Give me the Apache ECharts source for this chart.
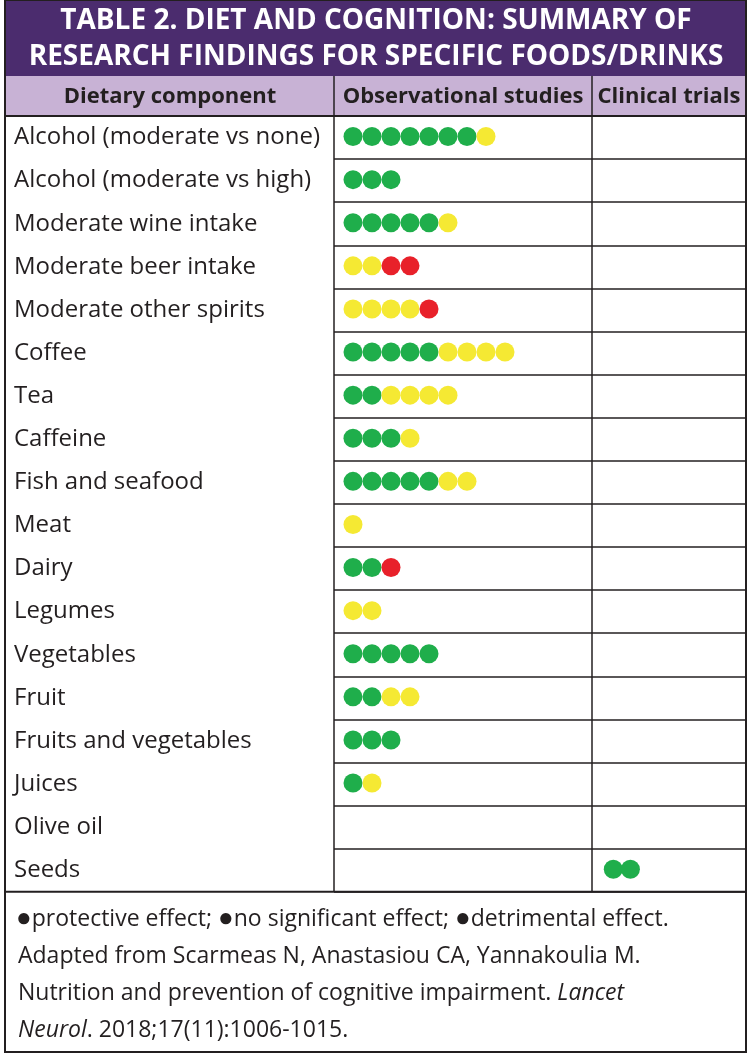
<!DOCTYPE html>
<html><head><meta charset="utf-8">
<script src="https://cdn.jsdelivr.net/npm/echarts@6/dist/echarts.min.js"></script>
<style>html,body{margin:0;padding:0;background:#fff}#c{width:750px;height:1058px}</style>
</head><body><div id="c"></div>
<script>
const categories = ['Alcohol (moderate vs none)','Alcohol (moderate vs high)','Moderate wine intake','Moderate beer intake','Moderate other spirits','Coffee','Tea','Caffeine','Fish and seafood','Meat','Dairy','Legumes','Vegetables','Fruit','Fruits and vegetables','Juices','Olive oil','Seeds'];
const observational = ['gggggggy','ggg','gggggy','yyrr','yyyyr','gggggyyyy','ggyyyy','gggy','gggggyy','y','ggr','yy','ggggg','ggyy','ggg','gy','',''];
const clinical = ['','','','','','','','','','','','','','','','','','gg'];
const colors = {g:'#1fae4b', y:'#f5e933', r:'#e8212a'};
const F = '"Open Sans", sans-serif';

const data = [];
categories.forEach((c, r) => {
  [...observational[r]].forEach((k, i) => data.push({value:[i+1, c], itemStyle:{color:colors[k]}}));
  [...clinical[r]].forEach((k, i) => data.push({value:[14.7+i*0.9, c], itemStyle:{color:colors[k]}}));
});

const L = '#231f20';
const rowTop = 116, rowH = 43.1, bottom = rowTop + 18*rowH;
const dot = {fill:null, font:'30px '+F, verticalAlign:'middle'};
const g = [
  {type:'rect', shape:{x:5,y:0,width:741,height:76}, style:{fill:'#4b2c6e'}},
  {type:'rect', shape:{x:5,y:76,width:741,height:40}, style:{fill:'#c8b2d5'}},
  {type:'text', style:{x:376,y:21,text:'TABLE 2. DIET AND COGNITION: SUMMARY OF',fill:'#fff',font:'bold 28px '+F,align:'center',verticalAlign:'middle'}},
  {type:'text', style:{x:376,y:57,text:'RESEARCH FINDINGS FOR SPECIFIC FOODS/DRINKS',fill:'#fff',font:'bold 28px '+F,align:'center',verticalAlign:'middle'}},
  {type:'text', style:{x:170,y:97,text:'Dietary component',fill:L,font:'bold 22px '+F,align:'center',verticalAlign:'middle'}},
  {type:'text', style:{x:463,y:97,text:'Observational studies',fill:L,font:'bold 22px '+F,align:'center',verticalAlign:'middle'}},
  {type:'text', style:{x:669,y:97,text:'Clinical trials',fill:L,font:'bold 22px '+F,align:'center',verticalAlign:'middle'}},
  {type:'line', shape:{x1:334,y1:76,x2:334,y2:bottom}, style:{stroke:L,lineWidth:1.5}},
  {type:'line', shape:{x1:592,y1:76,x2:592,y2:bottom}, style:{stroke:L,lineWidth:1.5}},
  {type:'line', shape:{x1:5,y1:rowTop,x2:746,y2:rowTop}, style:{stroke:L,lineWidth:2}},
  {type:'line', shape:{x1:5,y1:bottom,x2:746,y2:bottom}, style:{stroke:L,lineWidth:2}},
  {type:'rect', shape:{x:5,y:0,width:741,height:1052}, style:{fill:'none',stroke:L,lineWidth:2}},
  {type:'text', style:{x:16,y:919,text:'{g|●}protective effect; {y|●}no significant effect; {r|●}detrimental effect.',
    rich:{g:{color:colors.g,fontSize:26,fontFamily:F},y:{color:colors.y,fontSize:26,fontFamily:F},r:{color:colors.r,fontSize:26,fontFamily:F}},
    fill:L,font:'23px '+F,verticalAlign:'middle'}},
  {type:'text', style:{x:18,y:956,text:'Adapted from Scarmeas N, Anastasiou CA, Yannakoulia M.',fill:L,font:'23px '+F,verticalAlign:'middle'}},
  {type:'text', style:{x:18,y:993,text:'Nutrition and prevention of cognitive impairment. {i|Lancet}',rich:{i:{fontStyle:'italic',fontSize:23,fontFamily:F,color:L}},fill:L,font:'23px '+F,verticalAlign:'middle'}},
  {type:'text', style:{x:18,y:1030,text:'{i|Neurol}. 2018;17(11):1006-1015.',rich:{i:{fontStyle:'italic',fontSize:23,fontFamily:F,color:L}},fill:L,font:'23px '+F,verticalAlign:'middle'}}
];

const chart = echarts.init(document.getElementById('c'));
chart.setOption({
  animation:false,
  grid:{left:334, top:rowTop, width:412, height:18*rowH},
  xAxis:{type:'value', min:0, max:412/19, show:false},
  yAxis:{type:'category', data:categories, inverse:true,
    axisLine:{show:false}, axisTick:{show:false},
    splitLine:{show:true, lineStyle:{color:L, width:1.5}},
    axisLabel:{align:'left', margin:320, fontFamily:F, fontSize:24, color:L, padding:[8,0,0,0]}},
  series:[{type:'scatter', data, symbolSize:19, symbolOffset:[0,-1], itemStyle:{opacity:1}}],
  graphic:g
});
</script></body></html>
